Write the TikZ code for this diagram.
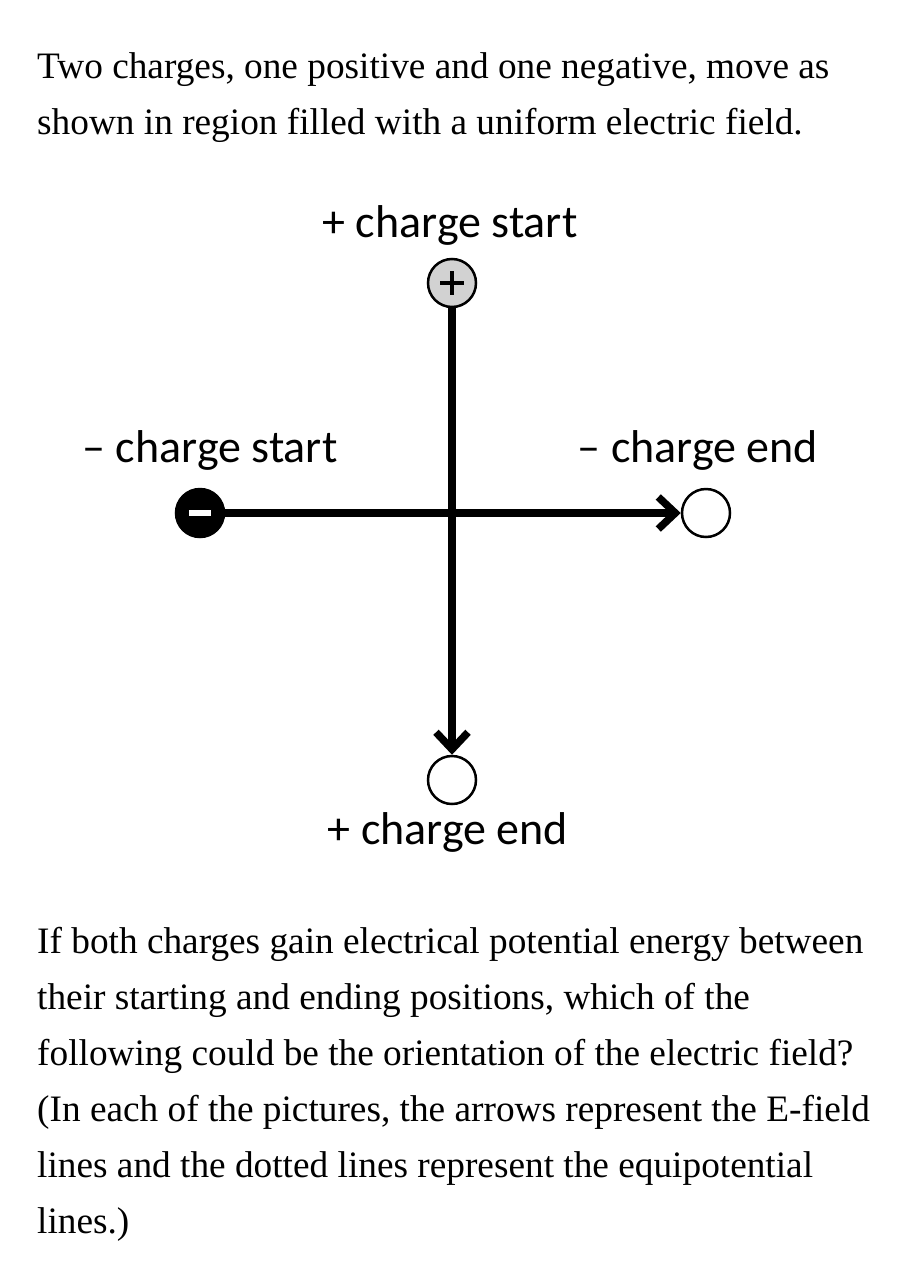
\documentclass[tikz,border=0pt]{standalone}
\usepackage{fontspec}
\setmainfont{Liberation Serif}
\newfontfamily\lbl{Carlito}
\usetikzlibrary{arrows.meta}
\begin{document}
\begin{tikzpicture}[x=1pt,y=-1pt,
  body/.style={anchor=base west,inner sep=0,font=\fontsize{37.3}{40}\selectfont},
  lab/.style={inner sep=0,font=\lbl\fontsize{46}{50}\selectfont},
  chg/.style={circle,draw=black,line width=2.5pt,minimum size=48pt,inner sep=0},
  path/.style={line width=7.5pt,-{Straight Barb[length=17pt,width=32pt,line width=7.5pt]}}]
\useasboundingbox (0,0) rectangle (904,1282);
\node[body] (t1) at (37,78) {Two charges, one positive and one negative, move as};
\node[body] (t2) at (37,134) {shown in region filled with a uniform electric field.};
\node[chg,fill=gray!35] (ps) at (452,283) {};
\draw[line width=4pt] (440,283)--(464,283) (452,271)--(452,295);
\node[chg] (pe) at (452,780) {};
\node[chg,fill=black] (ns) at (200,513) {};
\draw[white,line width=6.5pt] (189,513)--(211,513);
\node[chg] (ne) at (706,513) {};
\draw[path] (ns) -- (ne);
\draw[path] (ps) -- (pe);
\node[lab] (l1) at (450,225) {+ charge start};
\node[lab] (l2) at (210,450) {– charge start};
\node[lab] (l3) at (698,450) {– charge end};
\node[lab] (l4) at (448,832) {+ charge end};
\node[body] (p1) at (37,953) {If both charges gain electrical potential energy between};
\node[body] (p2) at (37,1009) {their starting and ending positions, which of the};
\node[body] (p3) at (37,1065) {following could be the orientation of the electric field?};
\node[body] (p4) at (37,1121) {(In each of the pictures, the arrows represent the E-field};
\node[body] (p5) at (37,1177) {lines and the dotted lines represent the equipotential};
\node[body] (p6) at (37,1233) {lines.)};
\end{tikzpicture}
\end{document}
